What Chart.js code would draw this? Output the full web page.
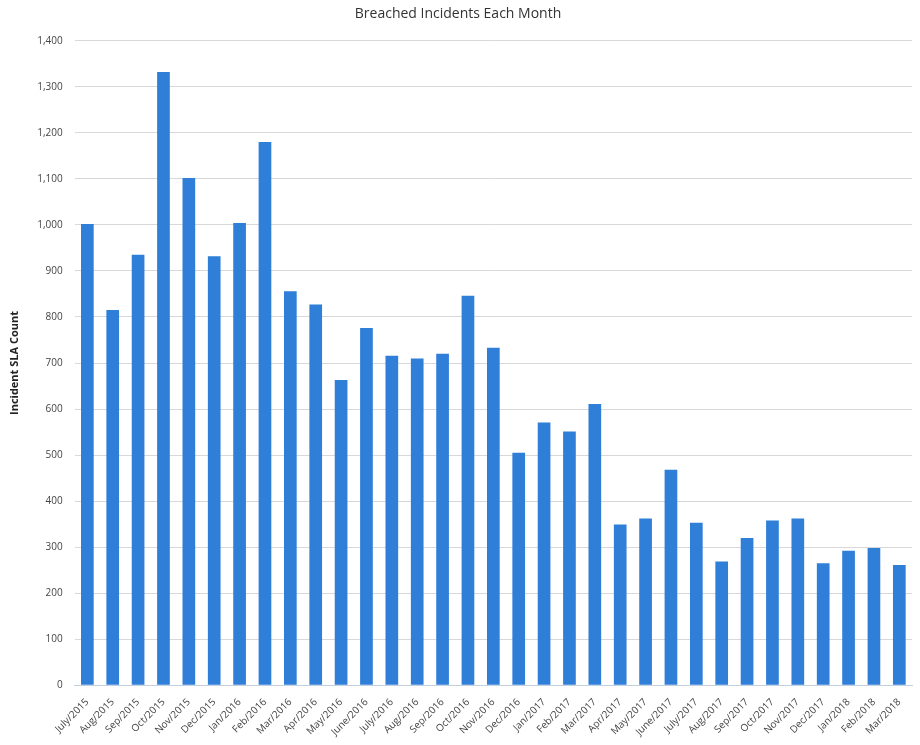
<!DOCTYPE html>
<html><head><meta charset="utf-8">
<script src="https://cdn.jsdelivr.net/npm/chart.js@4/dist/chart.umd.min.js"></script>
<style>html,body{margin:0;background:#fff}#w{width:920px;height:745px}</style>
</head><body><div id="w"><canvas id="c"></canvas></div>
<script>
const categories = ["July/2015","Aug/2015","Sep/2015","Oct/2015","Nov/2015","Dec/2015","Jan/2016","Feb/2016","Mar/2016","Apr/2016","May/2016","June/2016","July/2016","Aug/2016","Sep/2016","Oct/2016","Nov/2016","Dec/2016","Jan/2017","Feb/2017","Mar/2017","Apr/2017","May/2017","June/2017","July/2017","Aug/2017","Sep/2017","Oct/2017","Nov/2017","Dec/2017","Jan/2018","Feb/2018","Mar/2018"];
const values = [1002,815,935,1332,1102,932,1004,1180,856,827,663,776,716,710,720,846,733,505,571,551,611,349,362,468,353,269,320,358,362,265,292,298,261];
Chart.defaults.font.family = "'Open Sans', sans-serif";
new Chart(document.getElementById('c'), {
  type: 'bar',
  data: { labels: categories, datasets: [{ data: values, backgroundColor: '#2f7ed8', barPercentage: 0.5, categoryPercentage: 1 }] },
  options: {
    responsive: true, maintainAspectRatio: false, animation: false,
    layout: { padding: { left: 4, right: 8, top: 0, bottom: 4 } },
    plugins: {
      legend: { display: false },
      title: { display: true, text: 'Breached Incidents Each Month', color: '#333', font: { size: 14, weight: 'normal' }, padding: { top: 6, bottom: 18 } }
    },
    scales: {
      x: { grid: { display: false, drawTicks: true }, border: { color: '#c0d0e0' },
           ticks: { color: '#444', font: { size: 10 }, maxRotation: 45, minRotation: 45, autoSkip: false } },
      y: { min: 0, max: 1400, ticks: { stepSize: 100, color: '#444', font: { size: 10 }, padding: 12 },
           grid: { color: '#d8d8d8', drawTicks: false }, border: { display: false },
           title: { display: true, text: 'Incident SLA Count', color: '#222', font: { size: 11, weight: 'bold' } } }
    }
  }
});
</script></body></html>
